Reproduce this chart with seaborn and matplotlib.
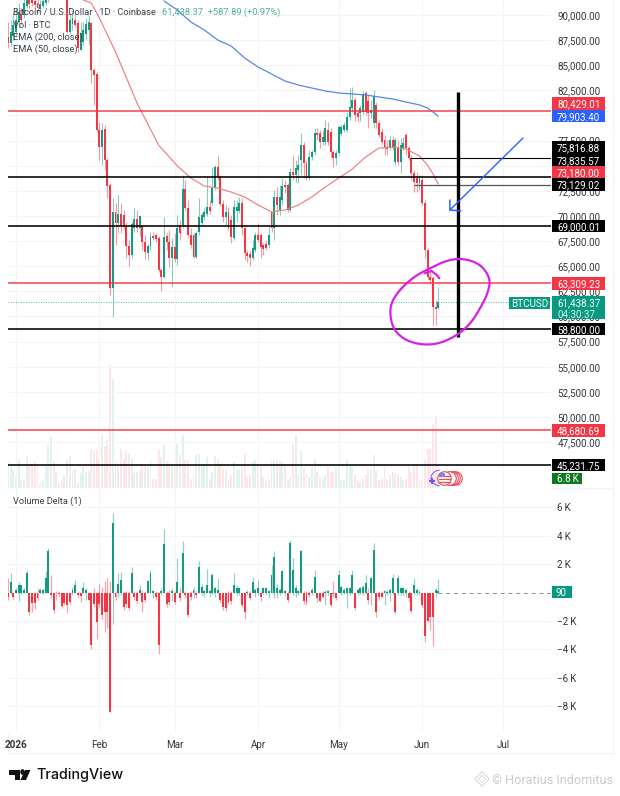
import numpy as np
import pandas as pd
import matplotlib
matplotlib.use("Agg")
import matplotlib.pyplot as plt
from matplotlib.patches import Rectangle, Polygon
from matplotlib.lines import Line2D
import seaborn as sns

# ---- data: days counted from 2026-01-01 -------------------------------
candle_days = list(range(-3, 158))
opens = [87810,87210,87910,88310,89300,90100,90000,90890,91490,91490,
 91390,91190,90590,90890,91190,91590,91990,92480,92090,92880,
 92290,91990,91990,88310,89100,89500,89200,86515,87310,88110,
 88505,89200,84525,84130,78555,76860,78650,75570,73080,62830,
 70400,69300,70200,70100,68900,67010,66120,68800,69700,68800,
 69000,67410,66320,67010,68010,68110,67810,64625,63930,68010,
 67410,65820,66910,65720,69100,69100,72680,70800,68110,68110,
 65920,68410,69300,69900,70200,70890,71290,72780,74880,73880,
 71190,69900,70400,69600,67810,70490,70490,71290,68800,66320,
 66220,65820,66615,68110,68110,67110,67210,67110,70400,68800,
 71890,70595,71590,73080,73080,70595,74380,74080,74575,75570,
 77060,75270,73780,75870,76370,78260,78260,77360,77360,78555,
 78360,76370,75770,76270,78160,78555,78555,79850,80740,81540,
 80250,80250,80350,82240,81440,80250,79250,81040,79250,78360,
 77560,76860,76760,77560,75370,76760,75370,76760,78060,76760,
 75770,74280,73780,73280,73580,71290,66615,63930,63830,60940,
 60850]
highs = [89300,89500,90300,90690,91190,90690,91990,92290,91990,91790,
 91890,91690,91490,91890,91990,92490,92880,92880,93280,93080,
 92490,92490,92290,89990,90490,90300,89500,89300,89300,89700,
 90000,89300,84730,84330,79350,79250,79050,75770,73280,71790,
 71290,72090,71290,70600,69400,67610,69400,70800,70600,70100,
 69100,68110,67210,68410,68410,68310,68010,64830,69900,68310,
 68605,67810,68310,70100,69600,74080,73580,71590,68800,68310,
 68510,71790,70400,70800,73880,71590,74880,75070,75970,74080,
 71590,71090,70890,70100,71590,71590,71890,71790,69000,66615,
 66615,67610,68410,69300,68310,67310,67610,69000,70400,72585,
 72880,73080,73780,73580,73280,74770,76070,75570,76070,78260,
 77360,75570,76565,76565,78760,78760,78555,78555,79550,79350,
 78760,76565,76565,79050,79050,79350,80350,82730,82830,81840,
 80545,81040,82440,82440,82040,81540,82535,81340,79550,78760,
 78060,77560,77960,77960,77760,77560,77760,77860,78260,76960,
 76070,74575,74380,74080,74080,71590,66810,64830,64030,61640,
 62940]
lows = [86710,86910,87510,87910,88710,89100,89700,90690,90690,90890,
 90490,90300,90300,90690,90990,91290,91790,91790,91890,91990,
 91690,91690,88210,88110,88510,88800,86320,86515,87010,87510,
 87010,83230,81050,78350,75570,75070,74575,71790,62140,59950,
 67110,68310,68310,68605,65820,65020,65820,68410,68410,68010,
 66615,65720,65620,66615,67610,67410,64430,62540,63830,66615,
 64920,62930,65420,65120,67610,68800,70595,67810,66810,65820,
 65820,68110,69100,69600,70000,70200,71090,72585,73580,70990,
 69400,69100,68605,67310,67610,69400,70300,68110,65620,65420,
 65020,65620,66420,67410,65820,66120,66615,66810,68410,67610,
 70100,70100,71090,72290,70400,70400,73580,73380,73280,74080,
 73780,73580,73580,75570,76070,77560,76760,77060,77060,77060,
 75770,74870,75070,76070,77960,78360,78360,79550,80350,79450,
 79350,79450,80150,80050,78760,79750,78760,78760,77860,77060,
 76070,76070,76565,76565,75070,75070,74280,76565,76070,75570,
 73580,72380,72380,72585,71090,65820,63630,63230,59050,59150,
 60740]
closes = [87210,88310,89000,89500,90300,89500,91190,91790,91090,91190,
 90990,90690,91090,91390,91690,92090,92480,92090,92880,92290,
 91990,92290,88310,89500,89700,89000,86710,88210,88505,89100,
 89300,84525,84030,78555,76860,78555,75570,72980,62830,70400,
 69300,70200,69000,68900,67010,66120,69200,69700,68800,70000,
 67410,66420,67010,67910,67810,67710,64625,63930,67910,67410,
 65820,66910,65720,68800,68310,72680,70800,68110,67110,65920,
 68310,69900,70100,70400,70890,70490,72780,74880,73880,71190,
 69900,70400,68800,67910,70890,70890,71290,68800,66320,66020,
 65820,66810,68110,67610,66910,66710,66810,68110,68800,71890,
 71090,71890,72980,72880,70595,74380,74080,74770,75070,77060,
 75270,73780,75870,76370,78260,78060,77360,77860,78760,77360,
 76370,75770,76270,78850,78850,79050,79850,80840,81540,80050,
 79850,80740,82140,80350,80250,80545,81940,79250,78060,77360,
 76760,76670,77560,76760,77560,75370,77060,77260,76760,75770,
 74280,73380,73280,73780,71290,66615,63930,63630,60940,60740,
 61438.37]
volume_k = [17.5,14.1,11.8,7.3,19,5.4,6.1,20.9,15.2,15.9,
 17.5,14.5,3.4,4.3,15.2,28.8,34.9,18.1,10.7,3.4,
 4.5,8.4,19,21.3,12.2,12.9,3.4,10,14.1,11.3,
 11.3,25.4,25.8,25.4,19.7,35.6,28.1,33.3,83.2,73.7,
 19.3,14.1,26.1,19.7,25.8,23.1,20.4,10,10.7,11.8,
 15.9,14.5,14.1,19,5.7,5.7,25.8,20.9,29.2,17.9,
 17,15.2,14.1,29.9,22,35.6,18.6,19,6.1,9.5,
 22.7,22.7,16.3,15.2,20.9,5.7,10.7,21.3,19.7,14.5,
 12.9,11.8,5,8.4,17.5,11.8,12.9,14.1,23.1,7.3,
 8.4,17.5,19,15.9,14.1,7.3,4.3,6.1,19,19,
 19,18.1,17.5,14.5,5,7.3,29.5,35.6,8.4,25.8,
 13.6,9.5,7.3,14.1,19.7,10.7,7.3,6.1,8.4,14.1,
 11.3,10.7,14.1,14.5,5,5,19,14.1,14.1,9.5,
 5.4,3.9,6.1,8.4,12.9,12.9,22,11.8,5.4,6.1,
 14.1,6.1,8.4,10.7,9.5,9.1,7.3,5.4,6.1,14.1,
 10.7,14.5,15.2,6.1,5,18.6,26.5,26.5,43.5,48.5,
 6.8]
delta_close = [-.3,.75,-.35,.2,.5,.5,.2,1.4,-1.35,-.75,
 -.75,-.4,.2,.2,1.0,2.9,-.2,-1.2,-.05,-.1,
 -.95,-.75,-.9,-.65,.2,.5,-.2,-.25,.35,.2,
 -.5,-3.7,-.8,-2.1,-.8,-1.6,-1.35,-1.35,-8.45,4.9,
 -.3,.6,.9,-1.0,-.8,-1.1,1.4,-.3,-.6,.2,
 -.7,-.5,.8,1.4,.1,-.3,-3.7,.1,3.4,-.8,
 -.7,.1,-.7,.75,-.4,2.8,-.2,-1.6,-.3,.2,
 -.2,1.8,.4,.1,.5,.1,1.25,.3,.2,-.5,
 -1,-1.1,-.65,-.6,.5,.3,.3,-.9,-1.4,.05,
 -.4,.75,.15,.3,-.3,.3,.3,.1,1.2,2.5,
 .35,.2,1.5,.1,-.5,3.5,1.55,.35,.1,2.9,
 -.6,-.65,-.2,.2,1.1,-.4,-.6,-.3,.05,.1,
 -.9,-.1,-.4,1.25,.4,.2,.3,.3,1.25,-1.1,
 .2,.3,.4,.7,-.5,1,3,-1.4,-.3,-.3,
 .1,.05,.2,1,-1.4,1,.3,.3,.2,-.4,
 -1.3,.5,.2,.05,-.9,-3.05,-2,-1.75,-1.75,.2,
 .09]
delta_high = [1.0,1.35,0,.3,.75,.5,.3,1.6,0,0,
 0,.3,.3,.3,1.5,3.15,1.2,0,.1,.1,
 0,0,0,0,.4,.9,.1,0,.75,.35,
 0,0,.3,0,.6,.4,.8,1,.8,5.6,
 .1,1.4,1.45,.1,.1,.1,1.8,.1,.1,.5,
 .2,.1,.9,1.6,.2,.1,0,.3,4.5,.1,
 .2,.3,.1,2.4,.4,3.6,.1,0,.1,.4,
 .1,2.2,.6,.2,1.65,.2,1.4,.4,1,0,
 0,0,.1,.1,1.35,.5,.4,0,0,.2,
 .1,1.1,.3,.9,.1,.4,.4,.2,1.95,2.9,
 .6,.3,1.55,.2,.1,3.7,2.4,.5,.2,3,
 .1,.1,.1,.3,1.55,0,0,.1,.2,.2,
 0,.8,0,1.6,.5,.3,.4,.4,1.6,0,
 .3,.4,.5,1.2,.3,1.1,3.5,0,.1,.1,
 .2,.2,.3,1.3,0,1.2,.4,.4,.3,.1,
 0,1,.3,.2,0,0,0,0,0,.3,
 .95]
delta_low = [-.5,-.1,-.45,0,-.6,-.1,0,0,-1.55,-1.35,
 -1.15,-.5,0,-.1,0,0,-.4,-1.45,-.55,-.3,
 -1.1,-.9,-1.45,-.8,-.2,0,-.3,-.7,0,-.5,
 -.5,-4,-1,-3.3,-1,-1.9,-2.75,-2.5,-8.45,-2.2,
 -.5,-.3,-.2,-1.2,-1,-1.25,0,-.5,-.8,-.2,
 -1.35,-.7,0,0,-.4,-.5,-4.3,-.2,0,-1,
 -.9,-.6,-.8,0,-.6,0,-.4,-1.75,-.5,-.4,
 -.4,0,-.2,-.3,0,-.3,-.1,-.3,-.1,-.7,
 -1.2,-1.3,-.8,-.8,0,-.2,-.2,-1,-1.9,-.2,
 -.5,0,-.3,-.2,-.6,-.1,-.1,-.4,0,-.4,
 -.4,-.2,0,-.2,-.7,0,-.2,-.3,-.2,0,
 -.8,-.9,-.3,-.2,0,-.7,-.7,-.4,-.9,-.2,
 -1,-.3,-.5,0,-.2,-.1,-1.1,-.2,-.1,-1.2,
 -.2,-.1,-.2,-.1,-.8,-.9,0,-1.7,-.5,-.4,
 -.9,-.2,-.6,-.1,-1.5,-.2,-.2,-.2,-.3,-.6,
 -1.45,-.2,-.2,-.2,-1,-3.5,-2.1,-2.65,-3.75,-.3,
 0]
ema200_days = [55,60,65,70,75,80,85,90,95,100,105,110,115,120,125,130,135,140,145,150,153,155,157]
ema200 = [91390,90495,89300,88505,87510,86910,85720,84825,84130,83430,83030,82730,82440,82240,82140,82040,81840,81640,81340,81050,80750,80350,79903.4]
ema50_days = [25,28,31,37,45,53,60,65,70,75,80,85,90,95,100,105,110,115,120,125,130,135,140,145,150,153,155,157]
ema50 = [91490,91190,89700,86320,81240,77060,74980,73780,72980,72780,72380,71890,71090,70400,70595,71090,71890,72880,73780,74670,75870,76760,76860,76670,75970,75070,74180,73180]

red_levels = [80429.01, 63309.23, 48680.69]
black_levels = [73835.57, 69000.01, 58800.00, 45231.75]
short_black_level = 75816.88
short_grey_level = 73129.02
last_price = 61438.37
price_ticks = list(range(47500, 92500, 2500))
hidden_price_ticks = [75000]
delta_ticks = [6, 4, 2, -2, -4, -6, -8]
delta_tick_labels = ["6\u2009K", "4\u2009K", "2\u2009K", "\u22122\u2009K", "\u22124\u2009K", "\u22126\u2009K", "\u22128\u2009K"]
month_days = [0, 31, 59, 90, 120, 151, 181]
month_labels = ["2026", "Feb", "Mar", "Apr", "May", "Jun", "Jul"]
circle_days = [165.1,170,173.7,176,175.2,172.5,168.8,163.8,157.6,151.4,145.2,140.9,139.3,139.7,142.8,148.3,155.1,160.1]
circle_prices = [65720,65450,64790,63630,62300,60810,59320,58160,57390,57230,57660,58655,59980,61310,62635,63960,64950,65520]
caret_days = [152,154.5,156.4,157.4]
caret_prices = [64300,64530,64130,63800]

# ---- style ------------------------------------------------------------
W, H = 620, 796
GREEN, RED, BLUE = "#149a80", "#f23645", "#2962ff"
GRID = "#f3f4f6"
TXT = "#33363f"
sns.set_theme(style="white", rc={"axes.edgecolor": GRID})
plt.rcParams["font.family"] = ["Roboto", "DejaVu Sans"]

fig = plt.figure(figsize=(W / 100, H / 100), dpi=100, facecolor="white")

def axes_px(left, top, right, bottom):
    return [left / W, 1 - bottom / H, (right - left) / W, (bottom - top) / H]

L, R, PB = 7.5, 551, 487.5
DT, DB = 488, 733
ax_vol = fig.add_axes(axes_px(L, 0, R, PB), zorder=1)
ax = fig.add_axes(axes_px(L, 0, R, PB), zorder=2, facecolor="none")
axd = fig.add_axes(axes_px(L, DT, R, DB), zorder=2)
xlim = (-3.16, 198.9)
days = np.array(candle_days, dtype=float)
o, h, l, c = map(np.array, (opens, highs, lows, closes))
up = c >= o
colors = np.where(up, GREEN, RED)

# volume
ax_vol.bar(days, volume_k, width=0.72, color=colors, alpha=0.12, linewidth=0)
ax_vol.set_xlim(xlim); ax_vol.set_ylim(0, 331.5)
ax_vol.set_xticks([]); ax_vol.set_yticks([])
for s in ax_vol.spines.values():
    s.set_visible(False)

# candles
ax.vlines(days, l, h, colors=colors, linewidth=0.8, alpha=0.5, zorder=3)
ax.bar(days, np.abs(c - o), bottom=np.minimum(o, c), width=0.72, color=colors, linewidth=0, zorder=4)
sns.lineplot(x=ema200_days, y=ema200, ax=ax, color="#5b84e8", linewidth=0.9, zorder=5, estimator=None)
sns.lineplot(x=ema50_days, y=ema50, ax=ax, color="#ee7f80", linewidth=0.85, zorder=5, estimator=None)

ax.set_xlim(xlim); ax.set_ylim(42984, 91490)
for s in ax.spines.values():
    s.set_visible(False)
ax.yaxis.tick_right()
ax.set_yticks(price_ticks, ["" if p in hidden_price_ticks else f"{p:,.2f}" for p in price_ticks])
ax.set_xticks(month_days, [""] * len(month_days))
ax.tick_params(axis="both", length=0, labelsize=7.1, labelcolor=TXT, pad=4.5)
ax.grid(True, color=GRID, linewidth=0.7, zorder=0)
ax.set_axisbelow(True)
ax.set_xlabel(""); ax.set_ylabel("")

for v in red_levels:
    ax.axhline(v, color=RED, linewidth=1.15, alpha=0.9, zorder=6)
for v in black_levels:
    ax.axhline(v, color="black", linewidth=1.15, zorder=6)
ax.hlines(short_black_level, 146.5, xlim[1], color="black", linewidth=0.8, zorder=6)
ax.hlines(short_grey_level, 148, xlim[1], color="#555555", linewidth=0.9, zorder=6)
ax.axhline(last_price, color=GREEN, linewidth=0.6, linestyle=(0, (1, 2)), zorder=2)

# drawings on the chart
ax.plot([164.5, 164.5], [82335, 57960], color="black", linewidth=2.4, zorder=8, solid_capstyle="butt")
ax.plot([188.5, 161.3], [77760, 70595], color=BLUE, linewidth=1.0, zorder=8)
ax.plot([165.4, 161.3, 161.3], [70500, 70595, 71590], color=BLUE, linewidth=1.1, zorder=8)

def smooth_closed(xs, ys, n=12):
    pts = np.column_stack([xs, ys])
    m = len(pts)
    out = []
    for i in range(m):
        p0, p1, p2, p3 = pts[(i - 1) % m], pts[i], pts[(i + 1) % m], pts[(i + 2) % m]
        for t in np.linspace(0, 1, n, endpoint=False):
            out.append(0.5 * (2 * p1 + (p2 - p0) * t + (2 * p0 - 5 * p1 + 4 * p2 - p3) * t ** 2
                              + (3 * p1 - p0 - 3 * p2 + p3) * t ** 3))
    out.append(out[0])
    return np.array(out)

loop = smooth_closed(circle_days, circle_prices)
ax.plot(loop[:, 0], loop[:, 1], color="#d81fe8", linewidth=1.6, zorder=9, solid_capstyle="round")
ax.plot(caret_days, caret_prices, color="#d81fe8", linewidth=1.6, zorder=9)

# volume delta pane
dc, dh, dl = map(np.array, (delta_close, delta_high, delta_low))
dcol = np.where(dc >= 0, GREEN, RED)
axd.vlines(days, dl, dh, colors=dcol, linewidth=0.9, alpha=0.45, zorder=3)
axd.bar(days, dc, width=0.72, color=dcol, linewidth=0, zorder=4)
axd.hlines(0, 157, xlim[1], color="#8a8d96", linewidth=0.7, linestyle=(0, (4, 4)), zorder=2)
axd.set_xlim(xlim); axd.set_ylim(-9.894, 7.36)
for s in axd.spines.values():
    s.set_visible(False)
axd.yaxis.tick_right()
axd.set_yticks(delta_ticks, delta_tick_labels)
axd.set_xticks(month_days, month_labels)
axd.tick_params(axis="both", length=0, labelsize=7.1, labelcolor=TXT, pad=4.5)
axd.tick_params(axis="x", pad=5)
axd.xaxis.get_ticklabels()[0].set_fontweight("bold")
axd.xaxis.get_ticklabels()[0].set_clip_on(False)
axd.grid(True, color=GRID, linewidth=0.7, zorder=0)
axd.set_axisbelow(True)

# ---- figure level decoration -----------------------------------------
def fx(x): return x / W
def fy(y): return 1 - y / H

def frame_line(x0, y0, x1, y1):
    fig.add_artist(Line2D([fx(x0), fx(x1)], [fy(y0), fy(y1)], color="#f2f3f5", linewidth=0.8, zorder=1))

frame_line(7.5, 0, 7.5, 753)
frame_line(7.5, 753, 613, 753)
frame_line(613, 0, 613, 753)
frame_line(7.5, PB, 613, PB)

def box(x0, y0, x1, y1, color):
    fig.add_artist(Rectangle((fx(x0), fy(y1)), (x1 - x0) / W, (y1 - y0) / H, transform=fig.transFigure,
                             facecolor=color, edgecolor="none", zorder=10))

def label(y, text, color):
    box(551.5, y - 6.2, 605, y + 6.2, color)
    fig.text(fx(557), fy(y), text, color="white", fontsize=7.1, va="center_baseline", ha="left", zorder=11)

label(103.5, "80,429.01", RED)
label(116, "79,903.40", BLUE)
label(147.5, "75,816.88", "black")
label(160, "73,835.57", "black")
label(172.3, "73,180.00", RED)
label(184.6, "73,129.02", "black")
label(226, "69,000.01", "black")
label(283.5, "63,309.23", RED)
label(329, "58,800.00", "black")
label(430.5, "48,680.69", RED)
label(465, "45,231.75", "black")
box(551.5, 296, 605, 319, "#089981")
fig.text(fx(557), fy(302), "61,438.37", color="white", fontsize=7.1, va="center_baseline", zorder=11)
fig.text(fx(557), fy(313.5), "04:30:37", color="#d8f0ea", fontsize=7.1, va="center_baseline", zorder=11)
box(509, 297, 550, 308.5, "#089981")
fig.text(fx(529.5), fy(303), "BTCUSD", color="white", fontsize=7.1, ha="center", va="center_baseline", zorder=11)
box(551.5, 472.5, 582, 483.5, "#0e7a1e")
fig.text(fx(557), fy(478), "6.8\u2009K", color="white", fontsize=7.1, va="center_baseline", zorder=11)
box(551.5, 585.5, 572, 597.5, "#089981")
fig.text(fx(561.5), fy(591.7), "90", color="white", fontsize=7.1, ha="center", va="center_baseline", zorder=11)

# legend text
fig.text(fx(13), fy(12.5), "Bitcoin / U.S. Dollar \u00b7 1D \u00b7 Coinbase", fontsize=6.7, color="#3c3f48", va="center", zorder=11)
fig.text(fx(161.5), fy(12.5), "61,438.37  +587.89 (+0.97%)", fontsize=6.7, color="#4fae97", va="center", zorder=11)
fig.text(fx(13), fy(25), "Vol \u00b7 BTC", fontsize=6.7, color="#3c3f48", va="center", zorder=11)
fig.text(fx(13), fy(37.5), "EMA (200, close)", fontsize=6.7, color="#3c3f48", va="center", zorder=11)
fig.text(fx(13), fy(49.5), "EMA (50, close)", fontsize=6.7, color="#3c3f48", va="center", zorder=11)
fig.text(fx(13), fy(501), "Volume Delta (1)", fontsize=6.7, color="#3c3f48", va="center", zorder=11)

# event icons above the volume bars
icon_ax = fig.add_axes([0, 0, 1, 1], zorder=3, facecolor="none")
icon_ax.set_xlim(0, W); icon_ax.set_ylim(H, 0); icon_ax.axis("off")
for x in (454.5, 452.5, 450.5, 448.5):
    icon_ax.scatter([x], [478], s=95, facecolor="white", edgecolor="#ee4a55", linewidth=0.8, zorder=5)
icon_ax.scatter([444], [478], s=95, facecolor="white", edgecolor="#ee4a55", linewidth=0.8, zorder=6)
for yy in (476, 479, 482):
    icon_ax.plot([438.5, 449.5], [yy, yy], color="#ee4a55", linewidth=0.9, zorder=7)
icon_ax.add_patch(Rectangle((439, 472.5), 6, 4.5, facecolor="#6f90e8", edgecolor="none", zorder=8))
icon_ax.scatter([431.5], [481], s=16, marker="P", color="#7c4dff", linewidth=0, zorder=6)
t = np.linspace(np.pi * 0.55, np.pi * 1.45, 30)
icon_ax.plot(441 + 10 * np.cos(t), 478 + 8 * np.sin(t), color="#7c4dff", linewidth=0.7, zorder=4)

# footer
fig.add_artist(Polygon([(fx(9), fy(770)), (fx(20), fy(770)), (fx(20), fy(780)), (fx(15), fy(780)), (fx(15), fy(774.5)), (fx(9), fy(774.5))],
                       transform=fig.transFigure, facecolor="#111111", edgecolor="none", zorder=10))
fig.add_artist(Polygon([(fx(25), fy(770)), (fx(30.5), fy(770)), (fx(26), fy(780)), (fx(20.5), fy(780))],
                       transform=fig.transFigure, facecolor="#111111", edgecolor="none", zorder=10))
fig.add_artist(plt.Circle((fx(22.5), fy(772)), 2.2 / W, transform=fig.transFigure, facecolor="#111111", edgecolor="none", zorder=10))
fig.text(fx(36), fy(775.5), "TradingView", fontsize=10.3, fontweight="medium", family="Inter", color="#111111", va="center", zorder=11)
fig.text(fx(613), fy(780), "\u00a9 Horatius Indomitus", fontsize=9.1, color="#cbcbcb", ha="right", va="center", zorder=11)
icon_ax.scatter([482], [779], s=55, marker="D", facecolor="none", edgecolor="#d8d8d8", linewidth=0.7, zorder=5)
icon_ax.scatter([482], [779], s=14, marker="D", facecolor="none", edgecolor="#d8d8d8", linewidth=0.6, zorder=5)

fig.savefig("out.png", dpi=100)
